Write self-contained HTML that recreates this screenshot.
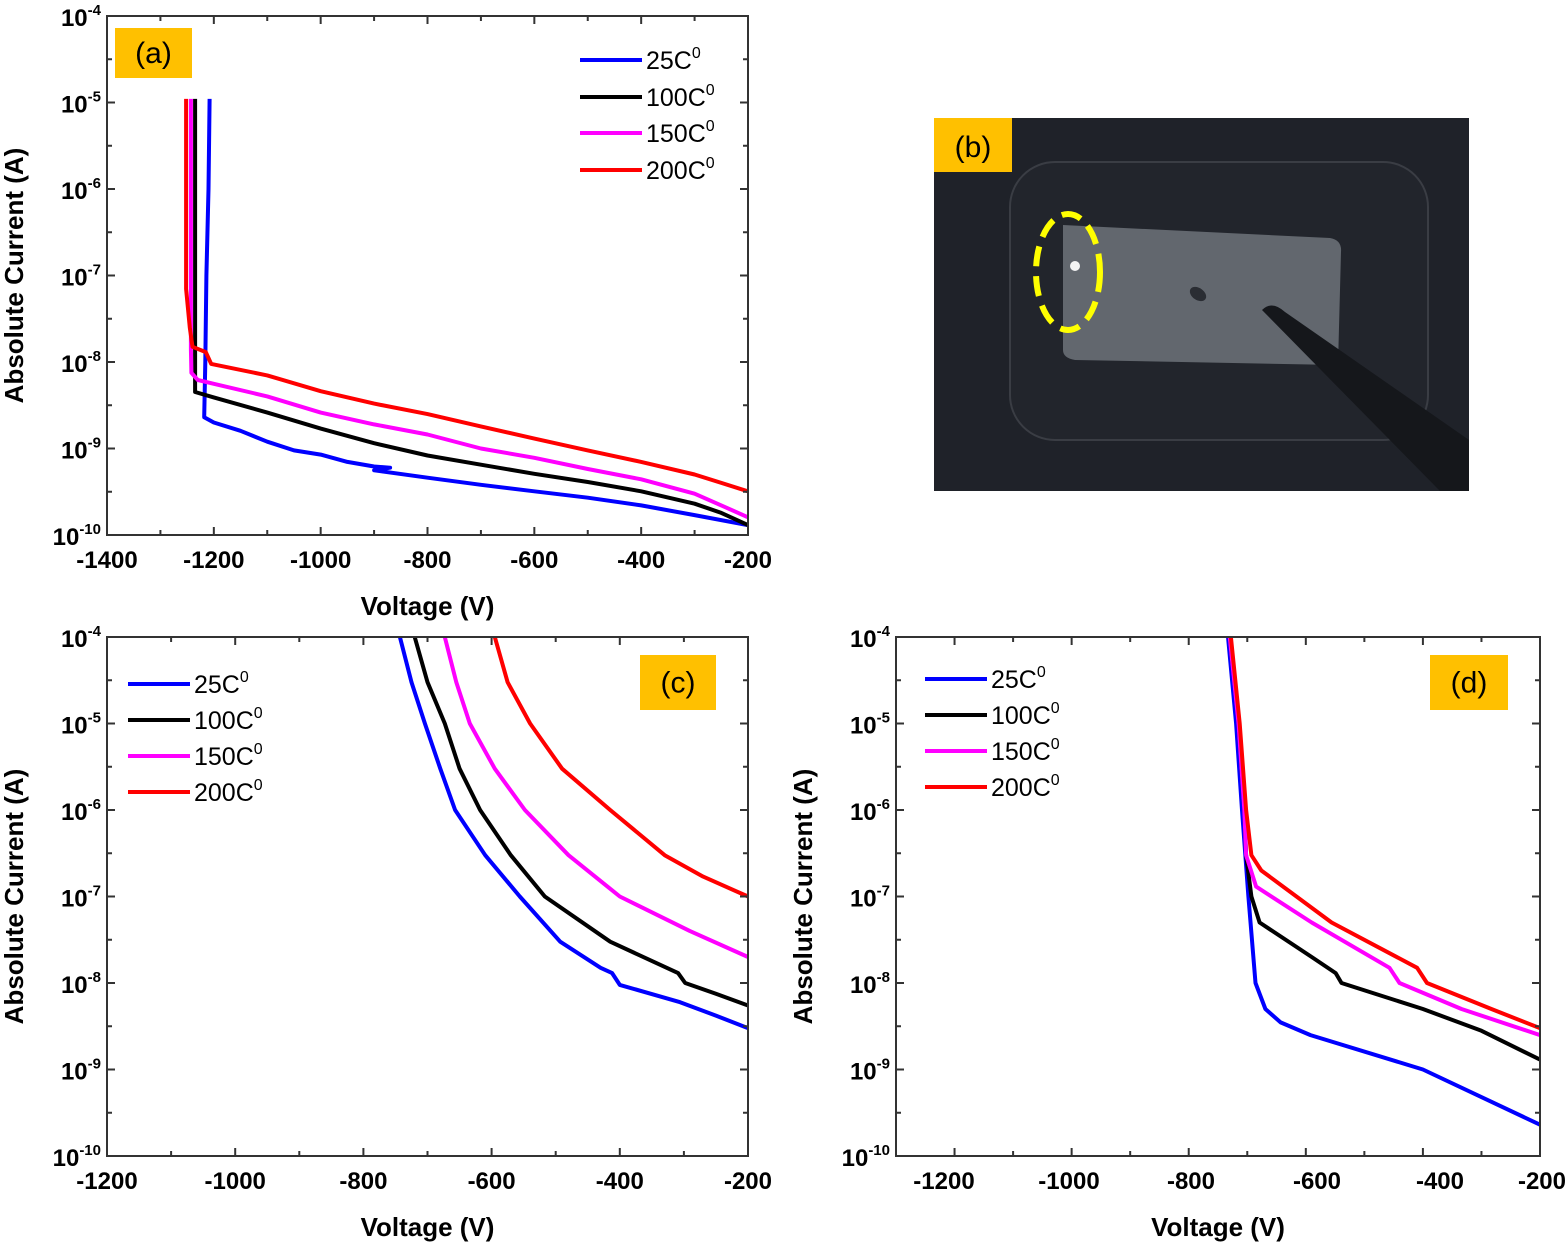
<!DOCTYPE html>
<html><head><meta charset="utf-8"><style>
body{margin:0;background:#fff;width:1566px;height:1245px;overflow:hidden}
svg text{font-family:"Liberation Sans",Arial,sans-serif}
</style></head><body>
<svg id="s" width="1566" height="1245" xmlns="http://www.w3.org/2000/svg">
<rect x="934" y="118" width="535" height="373" fill="#1f2229"/>
<rect x="1010" y="162" width="418" height="278" rx="45" fill="#22252c" stroke="#3a3d44" stroke-width="2"/>
<path d="M1063 225 L1330 238 Q1342 240 1341 252 L1338 365 L1075 360 Q1063 358 1063 350 Z" fill="#62676e"/>
<ellipse cx="1198" cy="294" rx="9" ry="6" fill="#2a2d33" transform="rotate(35 1198 294)"/>
<path d="M1262 310 Q1272 300 1285 312 L1469 440 L1469 491 L1440 491 Z" fill="#15171b"/>
<circle cx="1075" cy="266" r="5" fill="#f4f4f4"/>
<ellipse cx="1068" cy="272" rx="32" ry="58" fill="none" stroke="#ffff00" stroke-width="6" stroke-dasharray="20,10"/>
<rect x="934" y="118" width="78" height="54" fill="#ffc000"/>
<text x="973" y="157" font-size="30" text-anchor="middle">(b)</text>
</svg>
<script>
const S=document.getElementById('s');const NS='http://www.w3.org/2000/svg';
function el(t,a,txt){const e=document.createElementNS(NS,t);for(const k in a)e.setAttribute(k,a[k]);if(txt!==undefined)e.textContent=txt;S.appendChild(e);return e;}
function panel(P){
 const {L,R,T,B,vmin,vmax,tick,lab,labX,series,legend,tag}=P;
 const dec=(B-T)/6;
 const X=v=>L+(v-vmin)/(vmax-vmin)*(R-L);
 const Y=i=>B-(Math.log10(i)+10)*dec;
 const id='c'+L+T;
 const cp=el('clipPath',{id});const r=document.createElementNS(NS,'rect');
 r.setAttribute('x',L);r.setAttribute('y',T);r.setAttribute('width',R-L);r.setAttribute('height',B-T);cp.appendChild(r);
 series.forEach(s=>{
  let d=s.p.map((p,k)=>(k?'L':'M')+X(p[0]).toFixed(1)+' '+Y(p[1]).toFixed(1)).join(' ');
  el('path',{d,fill:'none',stroke:s.c,'stroke-width':4,'stroke-linejoin':'round','clip-path':'url(#'+id+')'});
 });
 el('rect',{x:L,y:T,width:R-L,height:B-T,fill:'none',stroke:'#333','stroke-width':2});
 for(let v=vmin;v<=vmax+0.1;v+=tick/2){
  const len=(Math.round(v)%tick===0)?8:5;
  el('line',{x1:X(v),x2:X(v),y1:B,y2:B-len,stroke:'#333','stroke-width':2});
  el('line',{x1:X(v),x2:X(v),y1:T,y2:T+len,stroke:'#333','stroke-width':2});
 }
 lab.forEach((v,k)=>el('text',{x:labX?labX[k]:X(v),y:B+33,'font-size':24,'font-weight':'bold','text-anchor':'middle'},String(v)));
 for(let e=-10;e<=-4;e++){
  const y=Y(Math.pow(10,e));
  el('line',{x1:L,x2:L+8,y1:y,y2:y,stroke:'#333','stroke-width':2});
  el('line',{x1:R,x2:R-8,y1:y,y2:y,stroke:'#333','stroke-width':2});
  if(e<-4){const ym=(y+Y(Math.pow(10,e+1)))/2;
   el('line',{x1:L,x2:L+5,y1:ym,y2:ym,stroke:'#333','stroke-width':2});
   el('line',{x1:R,x2:R-5,y1:ym,y2:ym,stroke:'#333','stroke-width':2});}
  const t=el('text',{x:L-6,y:y+10,'font-size':24,'font-weight':'bold','text-anchor':'end'});
  const a=document.createElementNS(NS,'tspan');a.textContent='10';t.appendChild(a);
  const b=document.createElementNS(NS,'tspan');b.textContent=String(e);b.setAttribute('font-size','15');b.setAttribute('dy','-11');t.appendChild(b);
 }
 el('text',{x:(L+R)/2,y:B+80,'font-size':26,'font-weight':'bold','text-anchor':'middle'},'Voltage (V)');
 el('text',{x:0,y:0,'font-size':26,'font-weight':'bold','text-anchor':'middle',transform:`translate(${L-84},${(T+B)/2}) rotate(-90)`},'Absolute Current (A)');
 const names=['25C','100C','150C','200C'];
 legend.ys.forEach((y,k)=>{
  el('line',{x1:legend.x,x2:legend.x+62,y1:y,y2:y,stroke:series[k].c,'stroke-width':4});
  const t=el('text',{x:legend.x+66,y:y+9,'font-size':25});
  const a=document.createElementNS(NS,'tspan');a.textContent=names[k];t.appendChild(a);
  const b=document.createElementNS(NS,'tspan');b.textContent='0';b.setAttribute('font-size','16');b.setAttribute('dy','-11');t.appendChild(b);
 });
 el('rect',{x:tag.x,y:tag.y,width:tag.w,height:tag.h,fill:'#ffc000'});
 el('text',{x:tag.x+tag.w/2,y:tag.y+tag.h/2+10,'font-size':30,'text-anchor':'middle'},tag.t);
}
const C=['#0000ff','#000000','#ff00ff','#ff0000'];
panel({L:107,R:748,T:16,B:535,vmin:-1400,vmax:-200,tick:200,lab:[-1400,-1200,-1000,-800,-600,-400,-200],
 legend:{x:580,ys:[60,97,133,170]},tag:{x:115,y:28,w:77,h:50,t:'(a)'},
 series:[
 {c:C[0],p:[[-1208,1.1e-5],[-1210,1e-6],[-1214,1e-7],[-1216,1e-8],[-1218,2.3e-9],[-1200,2e-9],[-1150,1.6e-9],[-1100,1.2e-9],[-1050,9.5e-10],[-1000,8.5e-10],[-950,7e-10],[-900,6.2e-10],[-870,6e-10],[-900,5.6e-10],[-800,4.6e-10],[-700,3.8e-10],[-600,3.2e-10],[-500,2.7e-10],[-400,2.2e-10],[-300,1.7e-10],[-200,1.3e-10]]},
 {c:C[1],p:[[-1235,1.1e-5],[-1235,4.5e-9],[-1200,3.9e-9],[-1100,2.6e-9],[-1000,1.7e-9],[-900,1.15e-9],[-800,8.3e-10],[-700,6.5e-10],[-600,5.1e-10],[-500,4.1e-10],[-400,3.2e-10],[-300,2.3e-10],[-250,1.8e-10],[-200,1.3e-10]]},
 {c:C[2],p:[[-1243,1.1e-5],[-1243,1.4e-8],[-1242,7.5e-9],[-1230,6.2e-9],[-1200,5.6e-9],[-1100,4e-9],[-1000,2.6e-9],[-900,1.9e-9],[-800,1.45e-9],[-700,1e-9],[-600,7.8e-10],[-500,5.8e-10],[-400,4.4e-10],[-300,3e-10],[-250,2.2e-10],[-200,1.6e-10]]},
 {c:C[3],p:[[-1252,1.1e-5],[-1252,7e-8],[-1245,2.5e-8],[-1240,1.5e-8],[-1215,1.3e-8],[-1205,9.5e-9],[-1100,7e-9],[-1000,4.6e-9],[-900,3.3e-9],[-800,2.5e-9],[-700,1.8e-9],[-600,1.3e-9],[-500,9.5e-10],[-400,7e-10],[-300,5e-10],[-250,4e-10],[-200,3.2e-10]]}
 ]});
panel({L:107,R:748,T:637,B:1156,vmin:-1200,vmax:-200,tick:200,lab:[-1200,-1000,-800,-600,-400,-200],
 legend:{x:128,ys:[684,720,756,792]},tag:{x:640,y:655,w:76,h:55,t:'(c)'},
 series:[
 {c:C[0],p:[[-743,1e-4],[-725,3e-5],[-704,1e-5],[-680,3e-6],[-657,1e-6],[-610,3e-7],[-556,1e-7],[-493,3e-8],[-430,1.5e-8],[-412,1.3e-8],[-400,9.5e-9],[-306,6e-9],[-250,4.2e-9],[-200,3e-9]]},
 {c:C[1],p:[[-720,1e-4],[-700,3e-5],[-673,1e-5],[-650,3e-6],[-618,1e-6],[-570,3e-7],[-517,1e-7],[-415,3e-8],[-309,1.3e-8],[-298,1e-8],[-250,7.5e-9],[-200,5.5e-9]]},
 {c:C[2],p:[[-673,1e-4],[-655,3e-5],[-634,1e-5],[-595,3e-6],[-548,1e-6],[-480,3e-7],[-400,1e-7],[-291,4e-8],[-200,2e-8]]},
 {c:C[3],p:[[-595,1e-4],[-575,3e-5],[-540,1e-5],[-490,3e-6],[-415,1e-6],[-330,3e-7],[-270,1.7e-7],[-200,1e-7]]}
 ]});
panel({L:896,R:1540,T:637,B:1156,vmin:-1300,vmax:-200,tick:200,lab:[-1200,-1000,-800,-600,-400,-200],labX:[944,1069,1191,1317,1440,1542],
 legend:{x:925,ys:[679,715,751,787]},tag:{x:1430,y:655,w:78,h:55,t:'(d)'},
 series:[
 {c:C[0],p:[[-733,1e-4],[-719,1e-5],[-709,1e-6],[-698,1e-7],[-686,1e-8],[-669,5e-9],[-643,3.5e-9],[-592,2.5e-9],[-400,1e-9],[-200,2.3e-10]]},
 {c:C[1],p:[[-730,1e-4],[-715,1e-5],[-705,1e-6],[-702,3e-7],[-693,1e-7],[-679,5e-8],[-590,2e-8],[-549,1.3e-8],[-539,1e-8],[-400,5e-9],[-300,2.8e-9],[-200,1.3e-9]]},
 {c:C[2],p:[[-730,1e-4],[-715,1e-5],[-705,1e-6],[-702,3e-7],[-685,1.3e-7],[-590,5e-8],[-457,1.5e-8],[-440,1e-8],[-334,5e-9],[-200,2.5e-9]]},
 {c:C[3],p:[[-728,1e-4],[-713,1e-5],[-702,1e-6],[-693,3e-7],[-676,2e-7],[-556,5e-8],[-410,1.5e-8],[-393,1e-8],[-283,5e-9],[-200,3e-9]]}
 ]});
</script>
</body></html>
